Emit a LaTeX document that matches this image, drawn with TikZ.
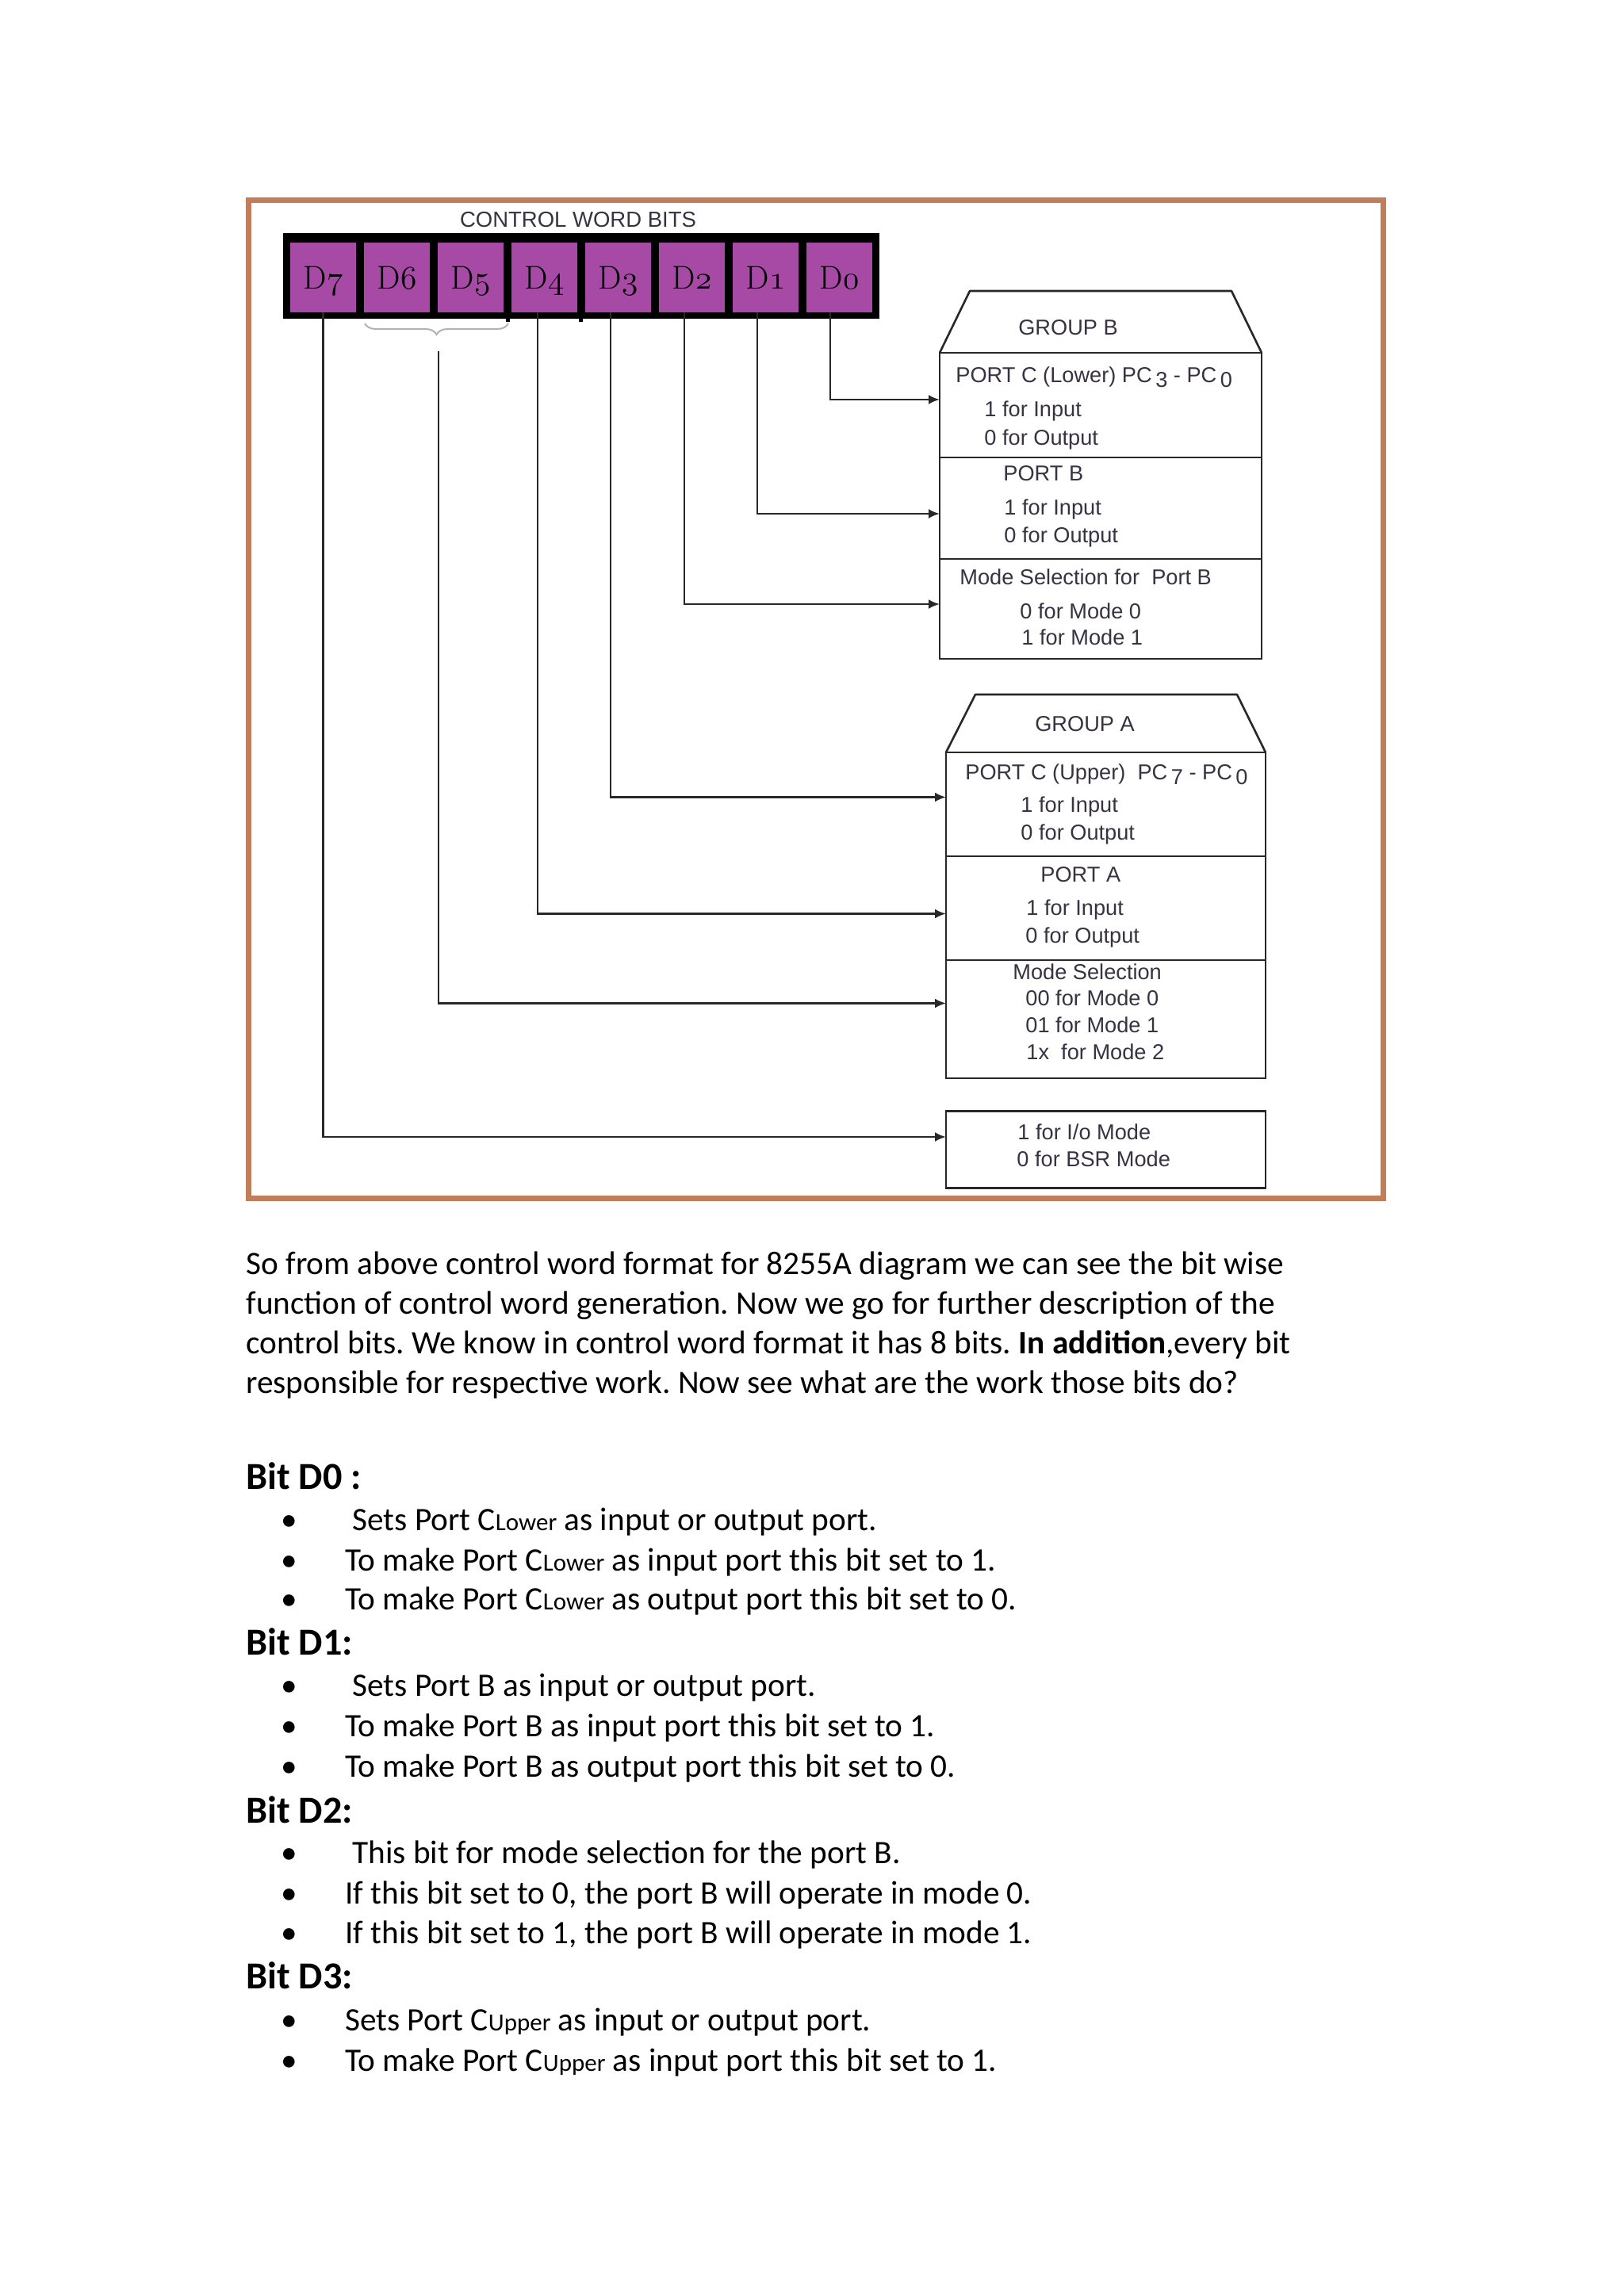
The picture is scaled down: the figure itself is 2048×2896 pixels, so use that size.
\documentclass[tikz,border=0pt]{standalone}
\usepackage{fontspec}
\newfontfamily\arialf{Liberation Sans}
\newfontfamily\calf{Carlito}
\usetikzlibrary{arrows.meta,decorations.pathreplacing}
\definecolor{frameor}{RGB}{192,127,90}
\definecolor{bitpurple}{RGB}{166,74,166}
\definecolor{dgtext}{RGB}{56,50,66}
\definecolor{linec}{RGB}{40,40,40}
\newcommand\osd[1]{\ensuremath{\mathchar"013#1}}
\newcommand\lowsub[1]{\,\raisebox{-0.45ex}{#1}}
\newcommand\smallpart[1]{{\fontsize{15.5}{18}\selectfont #1}}
\frenchspacing
\tikzset{
 diag/.style={font=\arialf\fontsize{13.6}{16}\selectfont, text=dgtext, inner sep=0pt},
 lt/.style={diag, anchor=base west},
 sec/.style={draw=linec, line width=1.3pt, inner sep=0pt, outer sep=0pt},
 bitbox/.style={fill=bitpurple, minimum width=41.5pt, minimum height=44pt, inner sep=0pt, font=\fontsize{20.74}{24}\selectfont, text=black, text height=14pt, text depth=0pt},
 conn/.style={draw=linec, line width=1.3pt, -{Latex[length=7pt,width=6pt]}},
 body/.style={font=\calf\fontsize{20.65}{25}\selectfont, anchor=base west, inner sep=0pt},
 head/.style={font=\calf\bfseries\fontsize{24.1}{29}\selectfont, anchor=base west, inner sep=0pt},
 bul/.style={font=\calf\fontsize{20.65}{25}\selectfont, anchor=base, inner sep=0pt},
}
\begin{document}
\begin{tikzpicture}[x=0.5pt,y=-0.5pt]
\useasboundingbox (0,0) rectangle (2048,2896);
\fill[white] (0,0) rectangle (2048,2896);
% frame
\draw[frameor, line width=3.5pt] (313.5,252.5) rectangle (1744.5,1511.5);
% title
\node[diag, font=\arialf\fontsize{13.75}{16}\selectfont] (title) at (729,277) {CONTROL WORD BITS};
% bit bar
\fill[black] (357,294) rectangle (1109,402);
\fill[black] (638,402) rectangle (643,406);
\fill[black] (730,402) rectangle (735,406);
\foreach \k/\x in {7/407.5,6/500.5,5/593.5,4/686.5,3/779.5,2/872.5,1/965.5,0/1058.5}
  \node[bitbox] (b\k) at (\x,350) {D\osd{\k}};
% brace under D6-D5
\draw[gray!60, line width=1pt, decorate, decoration={brace, mirror, amplitude=7pt}] (460,408) -- (641,408);
\coordinate (brtip) at (553,443);
% group B
\node[sec, minimum width=203pt, minimum height=66pt] (secB1) at (1388,511) {};
\node[sec, minimum width=203pt, minimum height=64pt] (secB2) at (1388,641) {};
\node[sec, minimum width=203pt, minimum height=63pt] (secB3) at (1388,768) {};
\draw[linec, line width=1.3pt, line join=round] (secB1.north west) -- (1223,367) -- (1553,367) -- (secB1.north east);
\node[diag] (gB) at (1347,413) {GROUP B};
\node[lt] (tB1) at (1205,482) {PORT C (Lower) PC\lowsub{3} - PC\lowsub{0}};
\node[lt] (tB2) at (1241,525) {1 for Input};
\node[lt] (tB3) at (1241,561) {0 for Output};
\node[lt] (tB4) at (1265,606) {PORT B};
\node[lt] (tB5) at (1266,649) {1 for Input};
\node[lt] (tB6) at (1266,684) {0 for Output};
\node[lt] (tB7) at (1210,737) {Mode Selection for\ \ Port B};
\node[lt] (tB8) at (1286,780) {0 for Mode 0};
\node[lt] (tB9) at (1288,813) {1 for Mode 1};
% group A
\node[sec, minimum width=201.5pt, minimum height=65.5pt] (secA1) at (1394.5,1014.5) {};
\node[sec, minimum width=201.5pt, minimum height=65.5pt] (secA2) at (1394.5,1145.5) {};
\node[sec, minimum width=201.5pt, minimum height=74.5pt] (secA3) at (1394.5,1285.5) {};
\node[sec, minimum width=201.5pt, minimum height=48.5pt] (io) at (1394.5,1450) {};
\draw[linec, line width=1.3pt, line join=round] (secA1.north west) -- (1230,876) -- (1560,876) -- (secA1.north east);
\node[diag] (gA) at (1368,913) {GROUP A};
\node[lt] (tA1) at (1217,983) {PORT C (Upper)\ \ PC\lowsub{7} - PC\lowsub{0}};
\node[lt] (tA2) at (1287,1024) {1 for Input};
\node[lt] (tA3) at (1287,1059) {0 for Output};
\node[lt] (tA4) at (1312,1112) {PORT A};
\node[lt] (tA5) at (1294,1154) {1 for Input};
\node[lt] (tA6) at (1293,1189) {0 for Output};
\node[lt] (tA7) at (1277,1235) {Mode Selection};
\node[lt] (tA8) at (1293,1268) {00 for Mode 0};
\node[lt] (tA9) at (1293,1302) {01 for Mode 1};
\node[lt] (tA10) at (1294,1336) {1x\ \ for Mode 2};
\node[lt] (tI1) at (1283,1437) {1 for I/o Mode};
\node[lt] (tI2) at (1282,1471) {0 for BSR Mode};
% connectors
\draw[conn] ([xshift=-5.75pt]b0.south) |- ([yshift=3.5pt]secB1.west);
\draw[conn] ([xshift=-5.25pt]b1.south) |- ([yshift=-3.5pt]secB2.west);
\draw[conn] ([xshift=-4.75pt]b2.south) |- ([yshift=3pt]secB3.west);
\draw[conn] ([xshift=-4.75pt]b3.south) |- ([yshift=4.5pt]secA1.west);
\draw[conn] ([xshift=-4.25pt]b4.south) |- ([yshift=-3.5pt]secA2.west);
\draw[conn] (brtip) |- ([yshift=10pt]secA3.west);
\draw[conn] (b7.south) |- ([yshift=8pt]io.west);
% paragraph
\node[body] (p1) at (310,1607) {So from above control word format for 8255A diagram we can see the bit wise};
\node[body] (p2) at (310,1657) {function of control word generation. Now we go for further description of the};
\node[body] (p3) at (310,1707) {control bits. We know in control word format it has 8 bits. \textbf{In addition},every bit};
\node[body] (p4) at (310,1757) {responsible for respective work. Now see what are the work those bits do?};
% Bit D0
\node[head] (h0) at (310,1878) {Bit D0 :};
\node[bul] (u01) at (365,1930) {•};
\node[body] (l01) at (444,1930) {Sets Port C\smallpart{Lower} as input or output port.};
\node[bul] (u02) at (365,1981) {•};
\node[body] (l02) at (435,1981) {To make Port C\smallpart{Lower} as input port this bit set to 1.};
\node[bul] (u03) at (365,2030) {•};
\node[body] (l03) at (435,2030) {To make Port C\smallpart{Lower} as output port this bit set to 0.};
% Bit D1
\node[head] (h1) at (310,2087) {Bit D1:};
\node[bul] (u11) at (365,2139) {•};
\node[body] (l11) at (444,2139) {Sets Port B as input or output port.};
\node[bul] (u12) at (365,2190) {•};
\node[body] (l12) at (435,2190) {To make Port B as input port this bit set to 1.};
\node[bul] (u13) at (365,2241) {•};
\node[body] (l13) at (435,2241) {To make Port B as output port this bit set to 0.};
% Bit D2
\node[head] (h2) at (310,2299) {Bit D2:};
\node[bul] (u21) at (365,2350) {•};
\node[body] (l21) at (444,2350) {This bit for mode selection for the port B.};
\node[bul] (u22) at (365,2401) {•};
\node[body] (l22) at (435,2401) {If this bit set to 0, the port B will operate in mode 0.};
\node[bul] (u23) at (365,2451) {•};
\node[body] (l23) at (435,2451) {If this bit set to 1, the port B will operate in mode 1.};
% Bit D3
\node[head] (h3) at (310,2508) {Bit D3:};
\node[bul] (u31) at (365,2561) {•};
\node[body] (l31) at (435,2561) {Sets Port C\smallpart{Upper} as input or output port.};
\node[bul] (u32) at (365,2612) {•};
\node[body] (l32) at (435,2612) {To make Port C\smallpart{Upper} as input port this bit set to 1.};
\end{tikzpicture}
\end{document}
